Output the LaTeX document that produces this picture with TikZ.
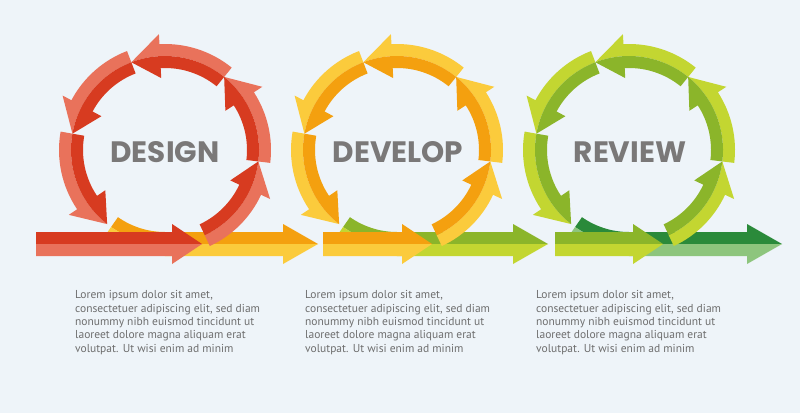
\documentclass[tikz,border=0pt]{standalone}
\usepackage{fontspec}
\newfontfamily\titlefont{Poppins}
\newfontfamily\bodyfont{PT Sans}
\definecolor{bgc}{HTML}{EEF4F9}
\definecolor{redL}{HTML}{E9725B}
\definecolor{redD}{HTML}{D73B20}
\definecolor{yelL}{HTML}{FBCB3C}
\definecolor{orgD}{HTML}{F4A00F}
\definecolor{limL}{HTML}{C3D631}
\definecolor{grnD}{HTML}{8BB52A}
\definecolor{dgL}{HTML}{8DC57D}
\definecolor{dgD}{HTML}{2A8A3A}
\definecolor{titlegray}{HTML}{7A7878}
\definecolor{bodygray}{HTML}{6E6E6E}
\newcommand\rgSeg[4]{%
  \pgfmathsetmacro\rgH{#2-18}%
  \fill[#3] (#1:94) -- (#1:106) arc[start angle=#1,end angle=\rgH,radius=106] -- (\rgH:116) -- (#2:94) arc[start angle=#2,end angle=#1,radius=94] -- cycle;
  \fill[#4] (#1:94) -- (#1:82) arc[start angle=#1,end angle=\rgH,radius=82] -- (\rgH:72) -- (#2:94) arc[start angle=#2,end angle=#1,radius=94] -- cycle;
}
\newcommand\stArrow[4]{%
  \pgfmathsetmacro\stH{#2-30}%
  \fill[#4] (#1,-82) -- (\stH,-82) -- (\stH,-74) -- (#2,-94) -- (#1,-94) -- cycle;
  \fill[#3] (#1,-94) -- (#2,-94) -- (\stH,-114) -- (\stH,-106) -- (#1,-106) -- cycle;
}
\newcommand\rbArrow[3]{%
  \pgfmathsetmacro\rbH{#1-35}%
  \fill[#3] (235:94) -- (235:82) arc[start angle=235,end angle=270,radius=82] -- (\rbH,-82) -- (\rbH,-74) -- (#1,-94) -- (0,-94) arc[start angle=270,end angle=235,radius=94] -- cycle;
  \fill[#2] (235:94) -- (235:106) arc[start angle=235,end angle=270,radius=106] -- (\rbH,-106) -- (\rbH,-114) -- (#1,-94) -- (0,-94) arc[start angle=270,end angle=235,radius=94] -- cycle;
}
\tikzset{
  titletext/.style={font=\titlefont\bfseries\fontsize{29.5}{29.5}\selectfont, text=titlegray, inner sep=0},
  bodytext/.style={anchor=north west, inner sep=0, align=left, text=bodygray, font=\bodyfont\fontsize{11.5}{13.35}\selectfont}
}
\begin{document}
\begin{tikzpicture}[x=1pt,y=1pt]
\fill[bgc] (0,0) rectangle (800,413);
\useasboundingbox (0,0) rectangle (800,413);
% circle 1
\begin{scope}[shift={(165,263)}]
  \rbArrow{153}{yelL}{orgD}
  \stArrow{-129}{37}{redL}{redD}
  \rgSeg{-65}{-7}{redL}{redD}
  \rgSeg{-7}{51}{redL}{redD}
  \rgSeg{51}{111}{redL}{redD}
  \rgSeg{111}{170}{redL}{redD}
  \rgSeg{170}{232}{redL}{redD}
\end{scope}
% circle 2
\begin{scope}[shift={(397,263)}]
  \rbArrow{151}{limL}{grnD}
  \stArrow{-74}{35}{yelL}{orgD}
  \rgSeg{-65}{-7}{yelL}{orgD}
  \rgSeg{-7}{51}{yelL}{orgD}
  \rgSeg{51}{111}{yelL}{orgD}
  \rgSeg{111}{170}{yelL}{orgD}
  \rgSeg{170}{232}{yelL}{orgD}
\end{scope}
% circle 3
\begin{scope}[shift={(629,263)}]
  \rbArrow{153}{dgL}{dgD}
  \stArrow{-74}{34}{limL}{grnD}
  \rgSeg{-65}{-7}{limL}{grnD}
  \rgSeg{-7}{51}{limL}{grnD}
  \rgSeg{51}{111}{limL}{grnD}
  \rgSeg{111}{170}{limL}{grnD}
  \rgSeg{170}{232}{limL}{grnD}
\end{scope}
\node[titletext] (t1) at (165,261) {DESIGN};
\node[titletext] (t2) at (398,261) {DEVELOP};
\node[titletext] (t3) at (630,261) {REVIEW};
\node[bodytext] (b1) at (75,122.5) {Lorem ipsum dolor sit amet,\\consectetuer adipiscing elit, sed diam\\nonummy nibh euismod tincidunt ut\\laoreet dolore magna aliquam erat\\volutpat. Ut wisi enim ad minim};
\node[bodytext] (b2) at (305,122.5) {Lorem ipsum dolor sit amet,\\consectetuer adipiscing elit, sed diam\\nonummy nibh euismod tincidunt ut\\laoreet dolore magna aliquam erat\\volutpat. Ut wisi enim ad minim};
\node[bodytext] (b3) at (536,122.5) {Lorem ipsum dolor sit amet,\\consectetuer adipiscing elit, sed diam\\nonummy nibh euismod tincidunt ut\\laoreet dolore magna aliquam erat\\volutpat. Ut wisi enim ad minim};
\end{tikzpicture}
\end{document}
